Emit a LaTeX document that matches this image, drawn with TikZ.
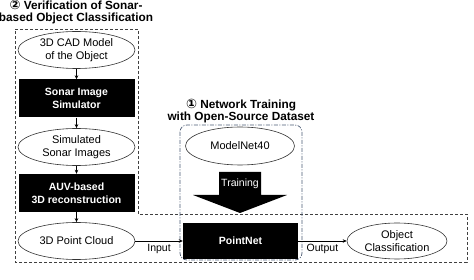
\documentclass[tikz,border=0pt]{standalone}
\usepackage{fontspec}
\setmainfont{Liberation Sans}
\newfontfamily\circfont[Scale=1.1]{DejaVu Sans}
\usetikzlibrary{shapes.geometric,arrows.meta,positioning}

\definecolor{trainblue}{RGB}{75,90,115}

\tikzset{
  oval/.style={ellipse, draw=black!80, line width=0.6pt, minimum width=117pt,
    minimum height=37pt, inner sep=0pt, align=center,
    font=\fontsize{11}{12.5}\selectfont},
  blackbox/.style={rectangle, fill=black, text=white, minimum width=116pt,
    minimum height=38pt, inner sep=0pt, align=center,
    font=\bfseries\fontsize{10.5}{13}\selectfont},
  title/.style={align=center, font=\bfseries\fontsize{11.8}{12.5}\selectfont},
  flow/.style={-{Stealth[length=4pt,width=3.5pt]}, line width=0.6pt},
  lbl/.style={font=\fontsize{10.5}{12}\selectfont, inner sep=1pt},
  region/.style={black!75, line width=0.7pt, dash pattern=on 3pt off 2pt},
  trainbox/.style={trainblue, line width=0.7pt, rounded corners=7pt,
    dash pattern=on 4pt off 1.5pt on 1pt off 1.5pt},
}

\begin{document}
\begin{tikzpicture}[x=1pt,y=-1pt]
  \useasboundingbox (0,0) rectangle (474,280);

  % region 2: verification
  \draw[region] (15,29) -- (138,29) -- (138,214) -- (467,214)
    -- (467,262) -- (15,262) -- cycle;
  % region 1: training
  \draw[trainbox] (180,125) rectangle (302,260);

  \node[title] (verif) at (76,12)
    {{\circfont ②} Verification of Sonar-\\based Object Classification};
  \node[title] (train) at (241,111)
    {{\circfont ①} Network Training\\with Open-Source Dataset};

  % left column
  \node[oval] (cad) at (76.5,50) {3D CAD Model\\of the Object};
  \node[blackbox] (sim) at (76.5,98.5) {Sonar Image\\Simulator};
  \node[oval] (simimg) at (76.5,147) {Simulated\\Sonar Images};
  \node[blackbox] (auv) at (76.5,193) {AUV-based\\3D reconstruction};
  \node[oval] (cloud) at (76.5,241) {3D Point Cloud};

  % training column
  \node[oval, minimum width=109pt, minimum height=38pt] (modelnet) at (240,146) {ModelNet40};
  \node[blackbox, minimum width=115pt, minimum height=36pt] (pointnet) at (240.5,241) {PointNet};
  \node[oval, minimum width=100pt, minimum height=36pt] (objcls) at (397,241) {Object\\Classification};

  % big training arrow
  \fill (219,172) -- (261,172) -- (261,195) -- (287,195) -- (240,213)
    -- (193,195) -- (219,195) -- cycle;
  \node[lbl, text=white] (training) at (240,184) {Training};

  \foreach \a/\b in {cad/sim,sim/simimg,simimg/auv,auv/cloud}
    \draw[flow] (\a) -- (\b);
  \draw[flow] (cloud) -- node[lbl, below=2pt] (input) {Input} (pointnet);
  \draw[flow] (pointnet) -- node[lbl, below=2pt] (output) {Output} (objcls);
\end{tikzpicture}
\end{document}
